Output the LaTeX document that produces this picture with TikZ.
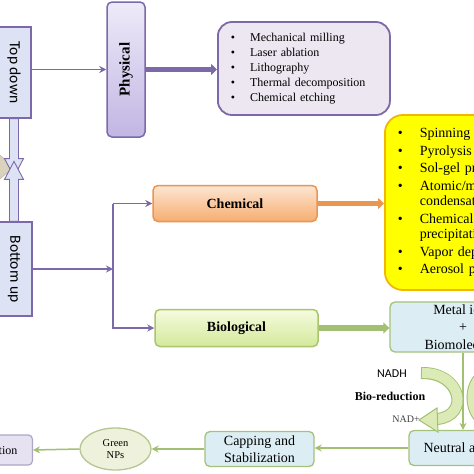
\documentclass[tikz,border=0pt]{standalone}
\usepackage{fontspec}
\setmainfont{Liberation Serif}
\newfontfamily\calfont{Carlito}
\usepackage{tikz}
\usetikzlibrary{arrows.meta, shapes.geometric, positioning}

\definecolor{purpline}{HTML}{7B69A9}
\definecolor{tdfill}{HTML}{DDE3F4}
\definecolor{physA}{HTML}{EEEAF9}
\definecolor{physB}{HTML}{C2B6E3}
\definecolor{listfill}{HTML}{EDE7F1}
\definecolor{chemline}{HTML}{EA9550}
\definecolor{chemA}{HTML}{FDE6D3}
\definecolor{chemB}{HTML}{F6AD70}
\definecolor{yell}{HTML}{FFFF00}
\definecolor{yellline}{HTML}{F2B800}
\definecolor{bioline}{HTML}{A9C66F}
\definecolor{bioA}{HTML}{F6FBDF}
\definecolor{bioB}{HTML}{D3E99A}
\definecolor{stepfill}{HTML}{DCEEF4}
\definecolor{stepline}{HTML}{A5C17C}
\definecolor{arrowgreen}{HTML}{A3BF72}
\definecolor{npfill}{HTML}{EEF1DC}
\definecolor{npline}{HTML}{B7C690}
\definecolor{charfill}{HTML}{E6E2F1}
\definecolor{charline}{HTML}{ADA6C7}
\definecolor{beige}{HTML}{D9D2BC}
\definecolor{beigeline}{HTML}{B3AB93}
\definecolor{bandfill}{HTML}{DCEBB6}

\begin{document}
\begin{tikzpicture}[x=1pt, y=-1pt,
    sidebox/.style = {draw=purpline, fill=tdfill, line width=1.2pt, inner sep=0pt,
                      font=\calfont\fontsize{15.5}{18}\selectfont},
    crossarrow/.style = {draw=purpline, fill=tdfill, line width=0.9pt},
    methodbox/.style = {rounded corners=5pt, line width=1.5pt, inner sep=0pt,
                        font=\bfseries\fontsize{14}{16}\selectfont},
    listbox/.style = {draw=purpline, fill=listfill, rounded corners=14pt, line width=1.8pt,
                      inner xsep=13pt, align=left, font=\fontsize{12}{15}\selectfont},
    chemlistbox/.style = {draw=yellline, fill=yell, rounded corners=18pt, line width=1.8pt,
                          inner xsep=13pt, align=left, font=\fontsize{14}{15.5}\selectfont},
    stepbox/.style = {draw=stepline, fill=stepfill, rounded corners=5pt, line width=1.3pt,
                      inner sep=0pt, align=center, font=\fontsize{14}{17.5}\selectfont},
    thinarrow/.style = {line width=1.5pt, -{Stealth[length=7pt, width=7pt]}},
    thickarrow/.style = {line width=5.5pt, -{Triangle[length=6pt, width=11pt]}}]

    \useasboundingbox (0,0) rectangle (474,474);
    \clip (0,0) rectangle (474,474);
    \fill[white] (0,0) rectangle (474,474);

    % left column
    \node[sidebox, minimum width=34pt, minimum height=91pt] (topdown) at (14,72.5) {\rotatebox{-90}{Top down}};
    \node[sidebox, minimum width=36pt, minimum height=94pt] (bottomup) at (14,269) {\rotatebox{-90}{Bottom up}};

    \node[diamond, draw=beigeline, fill=beige, minimum width=40pt, minimum height=34pt, inner sep=0pt] (marker) at (-6,167) {};

    \filldraw[crossarrow] ([xshift=-4.5pt]topdown.south) -- ++(0,40) -- ++(-5,0) -- ++(9.5,18)
        -- ++(9.5,-18) -- ++(-5,0) -- ([xshift=4.5pt]topdown.south) -- cycle;
    \filldraw[crossarrow] ([xshift=-4.5pt]bottomup.north) -- ++(0,-42) -- ++(-5,0) -- ++(9.5,-18)
        -- ++(9.5,18) -- ++(-5,0) -- ([xshift=4.5pt]bottomup.north) -- cycle;

    % physical branch
    \node[methodbox, draw=purpline, top color=physA, bottom color=physB,
          minimum width=38pt, minimum height=135pt] (physical) at (126,69.5)
          {\rotatebox{90}{\fontsize{15}{17}\selectfont Physical}};

    \node[listbox, anchor=west, minimum width=172pt, minimum height=93pt, text width=146pt] (physlist) at (217,68.5)
        {\begin{tabular}{@{}l@{\hspace{15pt}}l@{}}
         \textbullet & Mechanical milling\\
         \textbullet & Laser ablation\\
         \textbullet & Lithography\\
         \textbullet & Thermal decomposition\\
         \textbullet & Chemical etching
         \end{tabular}};

    \draw[thinarrow, purpline] (physical.west -| topdown.east) -- (physical.west);
    \draw[thickarrow, purpline] (physical.east) -- (physical.east -| physlist.west);

    % chemical branch
    \node[methodbox, draw=chemline, top color=chemA, bottom color=chemB,
          minimum width=164pt, minimum height=36pt] (chemical) at (235,203.5) {Chemical};

    \node[chemlistbox, anchor=west, minimum height=175pt, text width=190pt] (chemlist) at (384,202.5)
        {\begin{tabular}{@{}l@{\hspace{17pt}}l@{}}
         \textbullet & Spinning\\[2pt]
         \textbullet & Pyrolysis\\[2pt]
         \textbullet & Sol-gel process\\[2pt]
         \textbullet & Atomic/molecular\\
                     & condensation\\[2pt]
         \textbullet & Chemical\\
                     & precipitation\\[2pt]
         \textbullet & Vapor deposition\\[2pt]
         \textbullet & Aerosol process
         \end{tabular}};

    \draw[thickarrow, chemline] (chemical.east) -- (chemical.east -| chemlist.west);

    % biological branch
    \node[methodbox, draw=bioline, top color=bioA, bottom color=bioB,
          minimum width=163pt, minimum height=37pt] (biological) at (236.5,328) {Biological};

    \coordinate (branch) at (113,268);
    \draw[thinarrow, purpline] (bottomup.east) -- (bottomup.east -| branch);
    \draw[thinarrow, purpline] (branch |- chemical.west) -- (chemical.west);
    \draw[thinarrow, purpline] (branch |- chemical.west) |- (biological.west);

    \node[stepbox, minimum width=146pt, minimum height=50pt] (metal) at (463,327)
        {Metal ions\\+\\Biomolecules};
    \draw[thickarrow, arrowgreen] (biological.east) -- (biological.east -| metal.west);

    \node[stepbox, minimum width=108pt, minimum height=35pt] (neutral) at (463,448) {Neutral atoms};
    \draw[thinarrow, arrowgreen] (metal.south) -- (neutral.north);

    % bio-reduction
    \draw[line width=12pt, arrowgreen] (421,373) .. controls (462,372) and (470,416) .. (437,419);
    \draw[line width=10pt, bandfill, shorten <=1pt] (421,373) .. controls (462,372) and (470,416) .. (437,419);
    \filldraw[fill=bandfill, draw=arrowgreen, line width=1pt] (419,420) -- (437,408) -- (438,432) -- cycle;
    \draw[line width=12pt, arrowgreen] (492,372) .. controls (466,375) and (466,420) .. (492,424);
    \draw[line width=10pt, bandfill] (492,372) .. controls (466,375) and (466,420) .. (492,424);

    \node[font=\calfont\fontsize{12}{14}\selectfont] (nadh) at (392,374) {NADH};
    \node[font=\bfseries\fontsize{12}{14}\selectfont] (bioreduction) at (390,396) {Bio-reduction};
    \node[font=\fontsize{10}{12}\selectfont, text=black!75] (nadplus) at (406,419) {NAD+};

    % bottom row
    \node[stepbox, minimum width=109pt, minimum height=35pt] (capping) at (259.5,449)
        {Capping and\\Stabilization};
    \draw[thinarrow, arrowgreen] (neutral.west) -- (neutral.west -| capping.east);

    \node[ellipse, draw=npline, fill=npfill, line width=1.3pt, minimum width=71pt, minimum height=42pt,
          inner sep=0pt, align=center, font=\fontsize{10.5}{12}\selectfont] (greennp) at (115.5,449) {Green\\NPs};
    \draw[thinarrow, arrowgreen] (capping.west) -- (greennp.east);

    \node[draw=charline, fill=charfill, rounded corners=4pt, line width=1.2pt, anchor=east,
          inner xsep=15pt, minimum height=30pt, font=\fontsize{12}{14}\selectfont] (charbox) at (33,450) {Characterization};
    \draw[thinarrow, arrowgreen] (greennp.west) -- (charbox.east);
\end{tikzpicture}
\end{document}
